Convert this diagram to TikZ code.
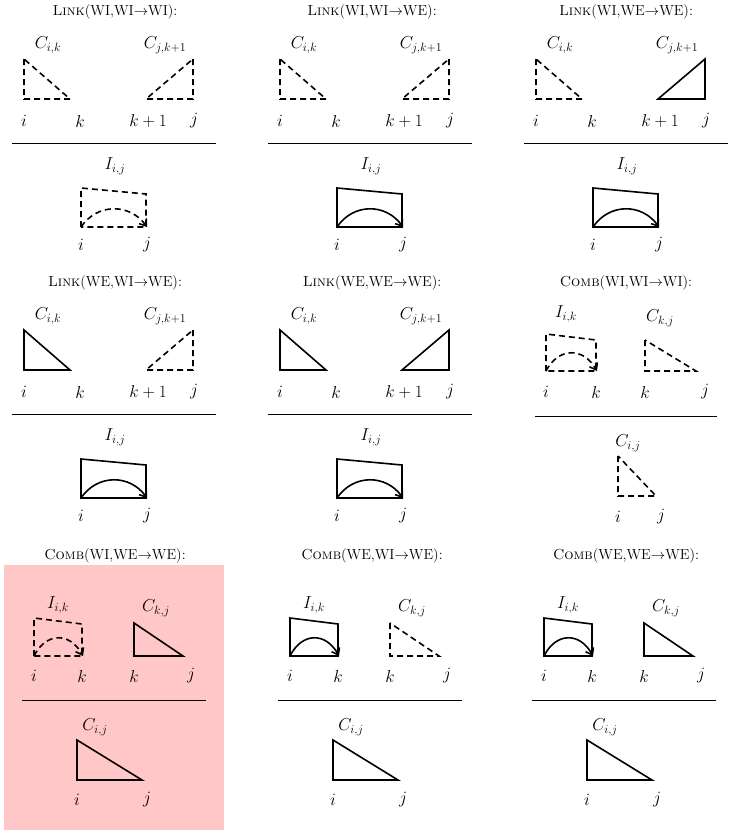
\documentclass[tikz,border=0pt]{standalone}
\usetikzlibrary{arrows.meta}
\begin{document}
\begin{tikzpicture}[x=1pt,y=-1pt,line width=1.6pt,
  lbl/.style={font=\fontsize{17}{20}\selectfont,inner sep=0pt},
  ttl/.style={font=\fontsize{14.5}{17}\selectfont,inner sep=0pt},
  dsh/.style={dashed,dash pattern=on 6pt off 4pt},
  sol/.style={solid},
  rule/.style={line width=0.7pt}]
\useasboundingbox (0,0) rectangle (738,833);
\fill[red!22] (4,565) rectangle (224,830);
% #1 style, #2 x1, #3 x2, #4 ytop, #5 ybot
\newcommand\myLtri[5]{\draw[#1,line join=miter] (#2,#4) -- (#2,#5) -- (#3,#5) -- cycle;}
\newcommand\myRtri[5]{\draw[#1,line join=miter] (#3,#4) -- (#3,#5) -- (#2,#5) -- cycle;}
\newcommand\mytrap[5]{\draw[#1] (#2,#5) -- (#2,#4) -- (#3,#4+6) -- (#3,#5) -- cycle;
  \draw[#1,-{Straight Barb[length=6pt,width=9pt]}] (#2,#5) .. controls (#2+0.25*#3-0.25*#2,#5-24) and (#3-0.25*#3+0.25*#2,#5-24) .. (#3+1,#5);}
% ---------- Row 1
\node[ttl] (t1) at (115,12) {\textsc{Link}(WI,WI$\rightarrow$WI):};
\node[ttl] (t2) at (372,12) {\textsc{Link}(WI,WI$\rightarrow$WE):};
\node[ttl] (t3) at (626,12) {\textsc{Link}(WI,WE$\rightarrow$WE):};
\foreach \o/\sa/\sb/\sc in {0/dsh/dsh/dsh, 256/dsh/dsh/sol, 512/dsh/sol/sol}{
  \begin{scope}[xshift=\o]
  \node[lbl] at (48,45) {$C_{i,k}$};
  \node[lbl] at (165,45) {$C_{j,k+1}$};
  \node[lbl] at (24,121) {$i$};
  \node[lbl] at (80,121) {$k$};
  \node[lbl] at (148,121) {$k+1$};
  \node[lbl] at (194,121) {$j$};
  \draw[rule] (12,143) -- (216,143);
  \node[lbl] at (115,166) {$I_{i,j}$};
  \node[lbl] at (81,245) {$i$};
  \node[lbl] at (147,245) {$j$};
  \end{scope}
}
\myLtri{dsh}{24}{70}{59}{99}\myRtri{dsh}{146}{193}{59}{99}
\mytrap{dsh}{81}{146}{188}{227}
\myLtri{dsh}{280}{326}{59}{99}\myRtri{dsh}{402}{449}{59}{99}
\mytrap{sol}{337}{402}{188}{227}
\myLtri{dsh}{536}{582}{59}{99}\myRtri{sol}{658}{705}{59}{99}
\mytrap{sol}{593}{658}{188}{227}
% ---------- Row 2
\node[ttl] (t4) at (115,283) {\textsc{Link}(WE,WI$\rightarrow$WE):};
\node[ttl] (t5) at (372,283) {\textsc{Link}(WE,WE$\rightarrow$WE):};
\node[ttl] (t6) at (626,283) {\textsc{Comb}(WI,WI$\rightarrow$WI):};
\foreach \o in {0,256}{
  \begin{scope}[xshift=\o,yshift=-271]
  \node[lbl] at (48,45) {$C_{i,k}$};
  \node[lbl] at (165,45) {$C_{j,k+1}$};
  \node[lbl] at (24,121) {$i$};
  \node[lbl] at (80,121) {$k$};
  \node[lbl] at (148,121) {$k+1$};
  \node[lbl] at (194,121) {$j$};
  \draw[rule] (12,143) -- (216,143);
  \node[lbl] at (115,166) {$I_{i,j}$};
  \node[lbl] at (81,245) {$i$};
  \node[lbl] at (147,245) {$j$};
  \end{scope}
}
\myLtri{sol}{24}{70}{330}{370}\myRtri{dsh}{146}{193}{330}{370}
\mytrap{sol}{81}{146}{459}{498}
\myLtri{sol}{280}{326}{330}{370}\myRtri{sol}{402}{449}{330}{370}
\mytrap{sol}{337}{402}{459}{498}
% COMB WI WI
\node[lbl] at (566,314) {$I_{i,k}$};
\node[lbl] at (660,318) {$C_{k,j}$};
\mytrap{dsh}{546}{596}{334}{371}
\myLtri{dsh}{645}{696}{340}{371}
\node[lbl] at (546,392) {$i$};
\node[lbl] at (596,392) {$k$};
\node[lbl] at (645,392) {$k$};
\node[lbl] at (705,392) {$j$};
\draw[rule] (535,416) -- (717,416);
\node[lbl] at (628,443) {$C_{i,j}$};
\myLtri{dsh}{618}{656}{456}{496}
\node[lbl] at (618,517) {$i$};
\node[lbl] at (661,517) {$j$};
% ---------- Row 3
\node[ttl] (t7) at (115,556) {\textsc{Comb}(WI,WE$\rightarrow$WE):};
\node[ttl] (t8) at (372,556) {\textsc{Comb}(WE,WI$\rightarrow$WE):};
\node[ttl] (t9) at (626,556) {\textsc{Comb}(WE,WE$\rightarrow$WE):};
\foreach \o/\r in {0/22, 256/278, 510/532}{
  \begin{scope}[xshift=\o]
  \node[lbl] at (58,605) {$I_{i,k}$};
  \node[lbl] at (156,608) {$C_{k,j}$};
  \node[lbl] at (34,676) {$i$};
  \node[lbl] at (82,676) {$k$};
  \node[lbl] at (134,676) {$k$};
  \node[lbl] at (191,676) {$j$};
  \draw[rule] (22,700) -- (206,700);
  \node[lbl] at (95,727) {$C_{i,j}$};
  \node[lbl] at (77,800) {$i$};
  \node[lbl] at (147,800) {$j$};
  \end{scope}
}
\mytrap{dsh}{34}{82}{618}{656}\myLtri{sol}{134}{183}{623}{656}
\myLtri{sol}{77}{142}{740}{780}
\mytrap{sol}{290}{338}{618}{656}\myLtri{dsh}{390}{439}{623}{656}
\myLtri{sol}{333}{398}{740}{780}
\mytrap{sol}{544}{592}{618}{656}\myLtri{sol}{644}{693}{623}{656}
\myLtri{sol}{587}{652}{740}{780}
\end{tikzpicture}
\end{document}
